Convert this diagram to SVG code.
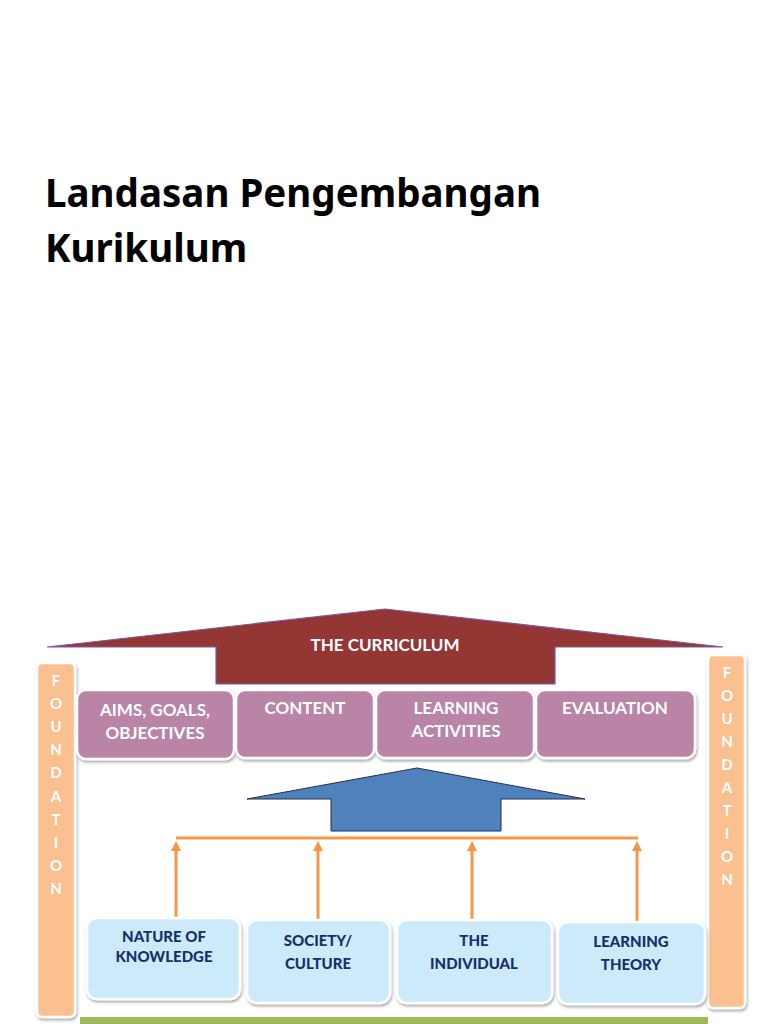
<svg xmlns="http://www.w3.org/2000/svg" width="768" height="1024" viewBox="0 0 768 1024">
<defs>
<filter id="sh" x="-20%" y="-20%" width="140%" height="140%">
<feDropShadow dx="1" dy="2" stdDeviation="1.5" flood-color="#000" flood-opacity="0.35"/>
</filter>
<marker id="ah" markerWidth="10" markerHeight="10" refX="5" refY="5" orient="auto" markerUnits="userSpaceOnUse">
<path d="M0,0 L10,5 L0,10 z" fill="#f79646"/>
</marker>
<style>
.title{font-family:"Noto Sans","Open Sans",sans-serif;font-weight:bold;font-size:38.5px;fill:#000}
.pbox{fill:#b984a6;stroke:#fff;stroke-width:2.5;filter:url(#sh)}
.bbox{fill:#cdeafb;stroke:#fff;stroke-width:2.5;filter:url(#sh)}
.fbar{fill:#fac090;stroke:#fff;stroke-width:2.5;filter:url(#sh)}
.wt{font-family:Lato,"Open Sans",sans-serif;font-weight:bold;font-size:17px;fill:#fff;text-anchor:middle}
.bt{font-family:Lato,"Open Sans",sans-serif;font-weight:900;font-size:15px;fill:#17306b;text-anchor:middle}
.ft{font-family:Lato,"Open Sans",sans-serif;font-weight:bold;font-size:15px;fill:#fff;text-anchor:middle}
.conn{stroke:#f79646;stroke-width:3;fill:none}
</style>
</defs>
<rect width="768" height="1024" fill="#fff"/>
<text class="title" x="45" y="207">Landasan Pengembangan</text>
<text class="title" x="45" y="262">Kurikulum</text>

<g id="foundation-left">
<rect class="fbar" x="37" y="663" width="38" height="354" rx="5"/>
<text class="ft" x="56" y="686">F</text>
<text class="ft" x="56" y="709">O</text>
<text class="ft" x="56" y="732">U</text>
<text class="ft" x="56" y="755">N</text>
<text class="ft" x="56" y="778">D</text>
<text class="ft" x="56" y="802">A</text>
<text class="ft" x="56" y="825">T</text>
<text class="ft" x="56" y="848">I</text>
<text class="ft" x="56" y="871">O</text>
<text class="ft" x="56" y="894">N</text>
</g>
<g id="foundation-right">
<rect class="fbar" x="708" y="655" width="37" height="353" rx="5"/>
<text class="ft" x="727" y="678">F</text>
<text class="ft" x="727" y="701">O</text>
<text class="ft" x="727" y="724">U</text>
<text class="ft" x="727" y="747">N</text>
<text class="ft" x="727" y="770">D</text>
<text class="ft" x="727" y="793">A</text>
<text class="ft" x="727" y="816">T</text>
<text class="ft" x="727" y="839">I</text>
<text class="ft" x="727" y="862">O</text>
<text class="ft" x="727" y="885">N</text>
</g>

<g id="curriculum">
<polygon points="47,647 385,609 723,647 555,647 555,684 216,684 216,647" fill="#943634" stroke="#7a5aa8" stroke-width="1.2"/>
<text class="wt" x="385" y="651">THE CURRICULUM</text>
</g>

<g id="aims">
<rect class="pbox" x="77" y="690" width="157" height="69" rx="9"/>
<text class="wt" x="155" y="716">AIMS, GOALS,</text>
<text class="wt" x="155" y="739">OBJECTIVES</text>
</g>
<g id="content">
<rect class="pbox" x="236" y="690" width="138" height="68" rx="9"/>
<text class="wt" x="305" y="714">CONTENT</text>
</g>
<g id="learning-activities">
<rect class="pbox" x="376" y="690" width="158" height="68" rx="9"/>
<text class="wt" x="456" y="714">LEARNING</text>
<text class="wt" x="456" y="737">ACTIVITIES</text>
</g>
<g id="evaluation">
<rect class="pbox" x="536" y="690" width="159" height="68" rx="9"/>
<text class="wt" x="615" y="714">EVALUATION</text>
</g>

<g id="up-arrow">
<polygon points="247,799 417,768 585,799 501,799 501,831 331,831 331,799" fill="#4f81bd" stroke="#1f2f4f" stroke-width="1"/>
</g>

<g id="connectors">
<line class="conn" x1="176" y1="838" x2="638" y2="838"/>
<line class="conn" x1="176" y1="918" x2="176" y2="846" marker-end="url(#ah)"/>
<line class="conn" x1="318" y1="920" x2="318" y2="846" marker-end="url(#ah)"/>
<line class="conn" x1="472" y1="920" x2="472" y2="846" marker-end="url(#ah)"/>
<line class="conn" x1="637" y1="922" x2="637" y2="846" marker-end="url(#ah)"/>
</g>

<g id="nature-of-knowledge">
<rect class="bbox" x="87" y="918" width="153" height="81" rx="10"/>
<text class="bt" x="164" y="942">NATURE OF</text>
<text class="bt" x="164" y="962">KNOWLEDGE</text>
</g>
<g id="society-culture">
<rect class="bbox" x="247" y="920" width="143" height="83" rx="10"/>
<text class="bt" x="318" y="946">SOCIETY/</text>
<text class="bt" x="318" y="969">CULTURE</text>
</g>
<g id="the-individual">
<rect class="bbox" x="397" y="920" width="155" height="83" rx="10"/>
<text class="bt" x="474" y="946">THE</text>
<text class="bt" x="474" y="969">INDIVIDUAL</text>
</g>
<g id="learning-theory">
<rect class="bbox" x="558" y="922" width="147" height="82" rx="10"/>
<text class="bt" x="631" y="947">LEARNING</text>
<text class="bt" x="631" y="970">THEORY</text>
</g>

<rect x="80" y="1017" width="628" height="7" fill="#9bbb59"/>
</svg>
